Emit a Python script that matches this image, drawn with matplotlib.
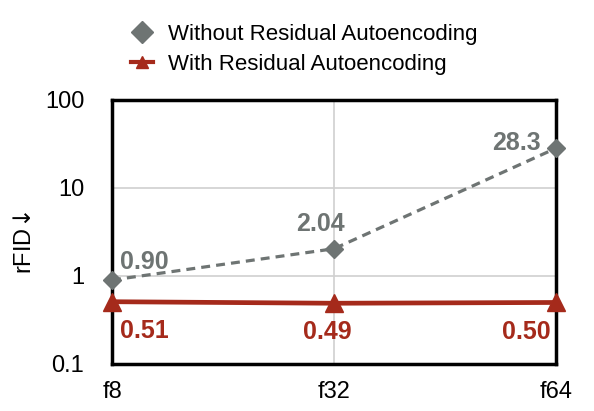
import matplotlib.pyplot as plt
from matplotlib.lines import Line2D

plt.rcParams['font.family'] = ['Liberation Sans', 'DejaVu Sans']

factors = ['f8', 'f32', 'f64']
without_res = [0.90, 2.04, 28.3]
with_res = [0.51, 0.49, 0.50]
without_labels = ['0.90', '2.04', '28.3']
with_labels = ['0.51', '0.49', '0.50']

gray = '#6e7473'
red = '#a52a1b'

fig = plt.figure(figsize=(5.94, 4.11), dpi=100)
ax = fig.add_axes([0.1886, 0.1144, 0.7474, 0.6423])

x = list(range(len(factors)))
ax.plot(x, without_res, color=gray, lw=2.3, ls=(0, (2.8, 1.9)), marker='D',
        ms=9, zorder=3, clip_on=False)
ax.plot(x, with_res, color=red, lw=3.4, marker='^', ms=13.5, zorder=4, clip_on=False)

ax.set_yscale('log')
ax.set_ylim(0.1, 100)
ax.set_xlim(0, 2)
ax.set_xticks(x)
ax.set_xticklabels(factors)
ax.set_yticks([0.1, 1, 10, 100])
ax.set_yticklabels(['0.1', '1', '10', '100'])
ax.minorticks_off()
ax.tick_params(length=0, labelsize=17)
ax.tick_params(axis='y', pad=20)
ax.tick_params(axis='x', pad=12)
ax.grid(True, color='#d0d0d0', lw=1.2)
ax.set_axisbelow(True)
for s in ax.spines.values():
    s.set_linewidth(2.5)
    s.set_color('black')

ax.set_ylabel(r'rFID$\!\downarrow$', fontsize=17)
ax.yaxis.set_label_coords(-0.172, 0.46)

# value labels
offs_w = [(6, 13, 'left'), (-10, 18, 'center'), (-11, 4, 'right')]
for xi, v, lab, (dx, dy, ha) in zip(x, without_res, without_labels, offs_w):
    ax.annotate(lab, (xi, v), xytext=(dx, dy), textcoords='offset points',
                ha=ha, va='center', color=gray, fontsize=18, fontweight='bold')
offs_r = [(6, 'left'), (-5, 'center'), (-4, 'right')]
for xi, v, lab, (dx, ha) in zip(x, with_res, with_labels, offs_r):
    ax.annotate(lab, (xi, v), xytext=(dx, -21), textcoords='offset points',
                ha=ha, va='center', color=red, fontsize=18, fontweight='bold')

handles = [
    Line2D([], [], color=gray, marker='D', ls='none', ms=11),
    Line2D([], [], color=red, marker='^', ms=8, lw=3),
]
fig.legend(handles, ['Without Residual Autoencoding', 'With Residual Autoencoding'],
           loc='upper left', bbox_to_anchor=(0.187, 0.99), frameon=False,
           fontsize=16, handlelength=1.0, handletextpad=0.68, labelspacing=0.4)

fig.savefig('out.png', dpi=100)
